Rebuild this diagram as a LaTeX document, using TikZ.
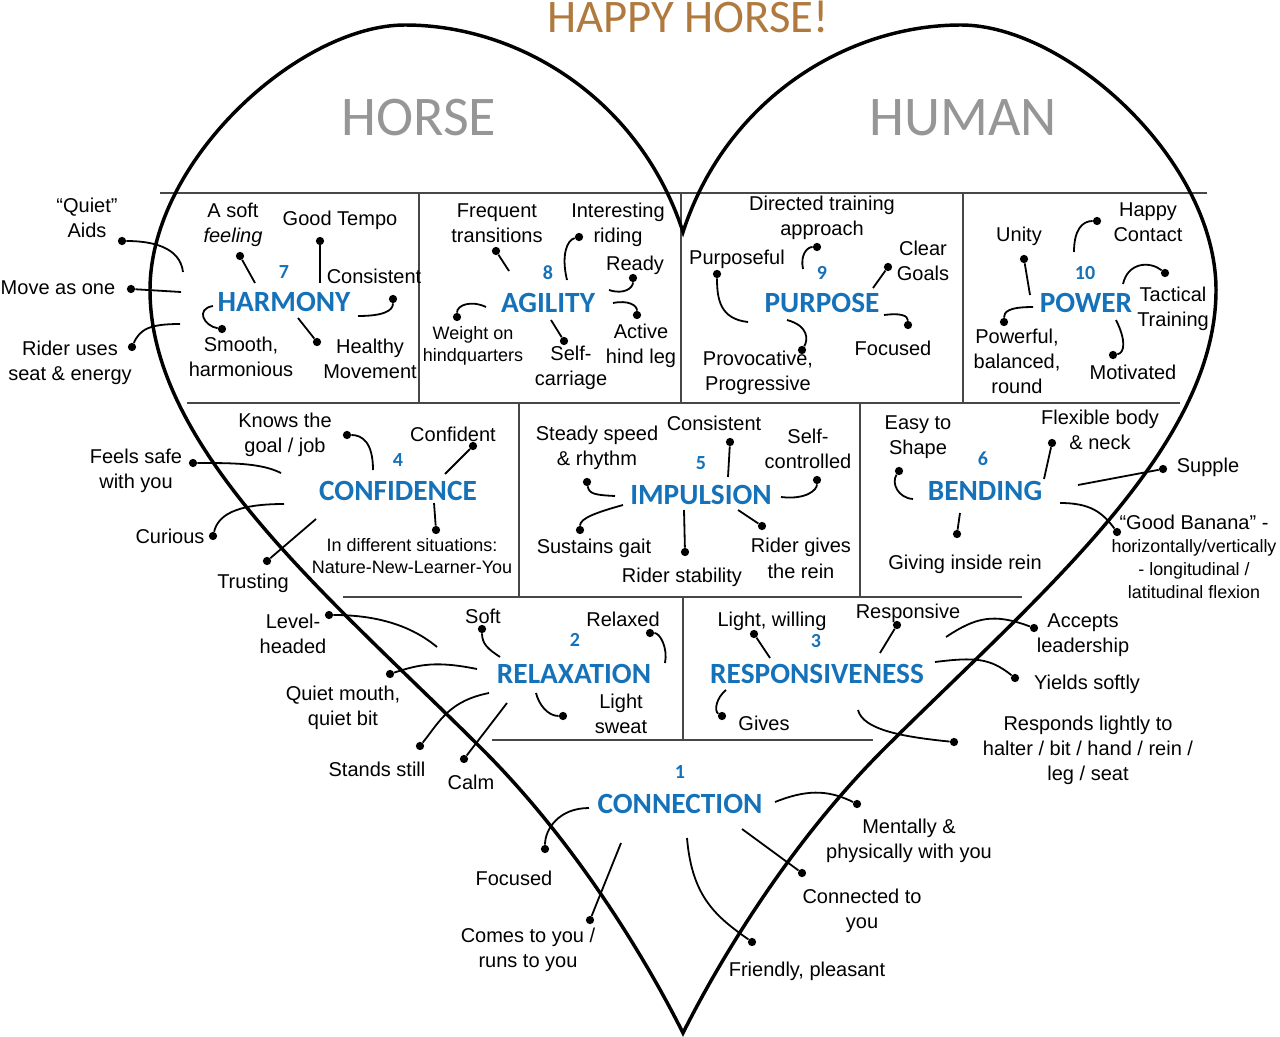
\documentclass[tikz,border=0pt]{standalone}
\usepackage{fontspec}
\setmainfont{Liberation Sans}
\newfontfamily\hfont{Carlito}
\definecolor{hblue}{RGB}{22,114,184}
\definecolor{tbrown}{RGB}{176,122,62}
\definecolor{hgray}{RGB}{150,150,150}
\begin{document}
\begin{tikzpicture}[x=0.75pt,y=-0.75pt,
  txt/.style={font=\fontsize{15}{18.75}\selectfont, align=center, inner sep=0pt, yshift=-2.25pt,
    execute at begin node=\strut, execute at end node=\strut},
  sm/.style={txt, font=\fontsize{13.5}{16.5}\selectfont},
  smb/.style={txt, font=\fontsize{13.4}{17.25}\selectfont},
  head/.style={font=\hfont\bfseries\fontsize{22}{24}\selectfont, text=hblue, inner sep=0pt},
  num/.style={font=\hfont\bfseries\fontsize{15}{16}\selectfont, text=hblue, inner sep=0pt},
  dotn/.style={circle, fill=black, inner sep=0pt, minimum size=6.2pt},
  con/.style={line width=1.35pt},
  heartline/.style={line width=2.6pt, line join=miter},
  gridline/.style={line width=1pt, draw=black!72}]
\useasboundingbox (0,0) rectangle (1280,1037);

% table lines
\draw[gridline] (160,193) -- (1207,193);
\draw[gridline] (419,193) -- (419,403);
\draw[gridline] (681,193) -- (681,403);
\draw[gridline] (963,193) -- (963,403);
\draw[gridline] (187,403) -- (1180,403);
\draw[gridline] (519,403) -- (519,597);
\draw[gridline] (860,403) -- (860,597);
\draw[gridline] (343,597) -- (1022,597);
\draw[gridline] (683,597) -- (683,740);
\draw[gridline] (492,740) -- (873,740);

% heart
\draw[heartline] (683,232) .. controls (640,100) and (520,25) .. (405,25)
  .. controls (300,25) and (150,160) .. (150,290)
  .. controls (150,450) and (333,600) .. (483,750)
  .. controls (583,850) and (653,973) .. (683,1033)
  .. controls (713,973) and (783,850) .. (883,750)
  .. controls (1033,600) and (1216,450) .. (1216,290)
  .. controls (1216,160) and (1066,25) .. (961,25)
  .. controls (846,25) and (726,100) .. (683,232) -- cycle;

% titles
\node[font=\hfont\fontsize{35}{40}\selectfont, text=tbrown, inner sep=0pt] (title) at (688,17) {HAPPY HORSE!};
\node[font=\hfont\fontsize{42}{46}\selectfont, text=hgray, inner sep=0pt] (horse) at (419,118) {HORSE};
\node[font=\hfont\fontsize{42}{46}\selectfont, text=hgray, inner sep=0pt] (human) at (963,118) {HUMAN};

% ===== 7 HARMONY =====
\node[num] (n7) at (284,272) {7};
\node[head] (h7) at (284,302) {HARMONY};
\node[txt] (tQuiet) at (87,219) {“Quiet"\\Aids};
\node[dotn] (dQuiet) at (122,241) {};
\coordinate (eQuiet) at (183,272);
\draw[con] (eQuiet) .. controls +(-3,-25) and +(30,0) .. (dQuiet);
\node[txt] (tMove) at (58,287) {Move as one};
\node[dotn] (dMove) at (131,289) {};
\coordinate (eMove) at (181,292);
\draw[con] (dMove) -- (eMove);
\node[txt] (tRider) at (70,362) {Rider uses\\seat \& energy};
\node[dotn] (dRider) at (132,347) {};
\coordinate (eRider) at (180,324);
\draw[con] (eRider) .. controls +(-30,0) and +(8,-18) .. (dRider);
\node[txt] (tSoftF) at (233,224) {A soft\\\textit{feeling}};
\node[dotn] (dSoftF) at (240,256) {};
\coordinate (eSoftF) at (255,283);
\draw[con] (dSoftF) -- (eSoftF);
\node[txt] (tTempo) at (340,218) {Good Tempo};
\node[dotn] (dTempo) at (320,241) {};
\coordinate (eTempo) at (320,283);
\draw[con] (dTempo) -- (eTempo);
\node[txt] (tCons7) at (374,276) {Consistent};
\node[dotn] (dCons7) at (393,299) {};
\coordinate (eCons7) at (358,316);
\draw[con] (eCons7) .. controls +(25,0) and +(0,12) .. (dCons7);
\node[txt] (tSmooth) at (241,358) {Smooth,\\harmonious};
\node[dotn] (dSmooth) at (222,329) {};
\coordinate (eSmooth) at (213,306);
\draw[con] (eSmooth) .. controls +(-18,3) and +(-18,-3) .. (dSmooth);
\node[txt] (tHealthy) at (370,360) {Healthy\\Movement};
\node[dotn] (dHealthy) at (317,342) {};
\coordinate (eHealthy) at (298,318);
\draw[con] (eHealthy) -- (dHealthy);

% ===== 8 AGILITY =====
\node[num] (n8) at (548,273) {8};
\node[head] (h8) at (548,303) {AGILITY};
\node[txt] (tFreq) at (497,224) {Frequent\\transitions};
\node[dotn] (dFreq) at (496,251) {};
\coordinate (eFreq) at (509,271);
\draw[con] (dFreq) -- (eFreq);
\node[txt] (tInter) at (618,224) {Interesting\\riding};
\node[dotn] (dInter) at (579,237) {};
\coordinate (eInter) at (567,280);
\draw[con] (eInter) .. controls +(-6,-25) and +(-12,3) .. (dInter);
\node[txt] (tReady) at (635,263) {Ready};
\node[dotn] (dReady) at (633,278) {};
\coordinate (eReady) at (609,290);
\draw[con] (eReady) .. controls +(15,5) and +(0,10) .. (dReady);
\node[sm] (tWeight) at (473,344) {Weight on\\hindquarters};
\node[dotn] (dWeight) at (457,317) {};
\coordinate (eWeight) at (486,307);
\draw[con] (eWeight) .. controls +(-15,-7) and +(0,-12) .. (dWeight);
\node[txt] (tSelf) at (571,367) {Self-\\carriage};
\node[dotn] (dSelf) at (564,341) {};
\coordinate (eSelf) at (551,320);
\draw[con] (eSelf) -- (dSelf);
\node[txt] (tActive) at (641,345) {Active\\hind leg};
\node[dotn] (dActive) at (637,315) {};
\coordinate (eActive) at (613,303);
\draw[con] (eActive) .. controls +(15,-3) and +(0,-10) .. (dActive);

% ===== 9 PURPOSE =====
\node[num] (n9) at (822,273) {9};
\node[head] (h9) at (822,303) {PURPOSE};
\node[txt] (tDir) at (822,217) {Directed training\\approach};
\node[dotn] (dDir) at (817,247) {};
\coordinate (eDir) at (803,269);
\draw[con] (eDir) .. controls +(-3,-14) and +(-10,0) .. (dDir);
\node[txt] (tPurpf) at (737,257) {Purposeful};
\node[dotn] (dPurpf) at (717,274) {};
\coordinate (ePurpf) at (748,322);
\draw[con] (ePurpf) .. controls +(-28,-3) and +(0,25) .. (dPurpf);
\node[txt] (tClear) at (923,262) {Clear\\Goals};
\node[dotn] (dClear) at (888,267) {};
\coordinate (eClear) at (873,288);
\draw[con] (dClear) -- (eClear);
\node[txt] (tFoc9) at (893,347) {Focused};
\node[dotn] (dFoc9) at (908,325) {};
\coordinate (eFoc9) at (884,315);
\draw[con] (eFoc9) .. controls +(15,-2) and +(0,-10) .. (dFoc9);
\node[txt] (tProv) at (758,372) {Provocative,\\Progressive};
\node[dotn] (dProv) at (802,350) {};
\coordinate (eProv) at (787,320);
\draw[con] (eProv) .. controls +(22,6) and +(6,-10) .. (dProv);

% ===== 10 POWER =====
\node[num] (n10) at (1085,273) {10};
\node[head] (h10) at (1086,303) {POWER};
\node[txt] (tUnity) at (1019,234) {Unity};
\node[dotn] (dUnity) at (1024,259) {};
\coordinate (eUnity) at (1030,295);
\draw[con] (dUnity) -- (eUnity);
\node[txt] (tHappy) at (1148,223) {Happy\\Contact};
\node[dotn] (dHappy) at (1097,221) {};
\coordinate (eHappy) at (1074,252);
\draw[con] (eHappy) .. controls +(0,-22) and +(-15,0) .. (dHappy);
\node[txt] (tTact) at (1173,308) {Tactical\\Training};
\node[dotn] (dTact) at (1165,273) {};
\coordinate (eTact) at (1123,284);
\draw[con] (eTact) .. controls +(5,-22) and +(-15,-12) .. (dTact);
\node[txt] (tPowf) at (1017,362) {Powerful,\\balanced,\\round};
\node[dotn] (dPowf) at (1004,322) {};
\coordinate (ePowf) at (1033,307);
\draw[con] (ePowf) .. controls +(-25,0) and +(0,-10) .. (dPowf);
\node[txt] (tMotiv) at (1133,371) {Motivated};
\node[dotn] (dMotiv) at (1113,355) {};
\coordinate (eMotiv) at (1116,320);
\draw[con] (eMotiv) .. controls +(10,20) and +(12,-2) .. (dMotiv);

% ===== 4 CONFIDENCE =====
\node[num] (n4) at (398,460) {4};
\node[head] (h4) at (398,491) {CONFIDENCE};
\node[txt] (tKnows) at (285,434) {Knows the\\goal / job};
\node[dotn] (dKnows) at (347,435) {};
\coordinate (eKnows) at (373,470);
\draw[con] (eKnows) .. controls +(0,-28) and +(15,0) .. (dKnows);
\node[txt] (tConfd) at (453,433) {Confident};
\node[dotn] (dConfd) at (473,446) {};
\coordinate (eConfd) at (445,474);
\draw[con] (dConfd) -- (eConfd);
\node[txt] (tFeels) at (136,470) {Feels safe\\with you};
\node[dotn] (dFeels) at (193,463) {};
\coordinate (eFeels) at (281,473);
\draw[con] (eFeels) .. controls +(-20,-10) and +(40,0) .. (dFeels);
\node[txt] (tCurious) at (170,535) {Curious};
\node[dotn] (dCurious) at (213,536) {};
\coordinate (eCurious) at (284,504);
\draw[con] (eCurious) .. controls +(-50,0) and +(5,-20) .. (dCurious);
\node[txt] (tTrust) at (253,580) {Trusting};
\node[dotn] (dTrust) at (267,561) {};
\coordinate (eTrust) at (316,519);
\draw[con] (dTrust) -- (eTrust);
\node[sm] (tDiff) at (412,556) {In different situations:\\Nature-New-Learner-You};
\node[dotn] (dDiff) at (436,530) {};
\coordinate (eDiff) at (434,503);
\draw[con] (eDiff) -- (dDiff);

% ===== 5 IMPULSION =====
\node[num] (n5) at (701,463) {5};
\node[head] (h5) at (701,495) {IMPULSION};
\node[txt] (tSteady) at (597,447) {Steady speed\\\& rhythm};
\node[dotn] (dSteady) at (587,482) {};
\coordinate (eSteady) at (615,496);
\draw[con] (eSteady) .. controls +(-20,-1) and +(2,12) .. (dSteady);
\node[txt] (tCons5) at (714,422) {Consistent};
\node[dotn] (dCons5) at (730,442) {};
\coordinate (eCons5) at (728,477);
\draw[con] (dCons5) -- (eCons5);
\node[txt] (tSelfc) at (808,450) {Self-\\controlled};
\node[dotn] (dSelfc) at (817,480) {};
\coordinate (eSelfc) at (781,497);
\draw[con] (eSelfc) .. controls +(25,3) and +(0,10) .. (dSelfc);
\node[txt] (tSust) at (594,545) {Sustains gait};
\node[dotn] (dSust) at (580,530) {};
\coordinate (eSust) at (623,505);
\draw[con] (eSust) .. controls +(-25,7) and +(0,-12) .. (dSust);
\node[txt] (tStab) at (682,574) {Rider stability};
\node[dotn] (dStab) at (685,552) {};
\coordinate (eStab) at (684,510);
\draw[con] (eStab) -- (dStab);
\node[txt] (tRgives) at (801,559) {Rider gives\\the rein};
\node[dotn] (dRgives) at (762,526) {};
\coordinate (eRgives) at (738,510);
\draw[con] (eRgives) -- (dRgives);

% ===== 6 BENDING =====
\node[num] (n6) at (983,459) {6};
\node[head] (h6) at (985,491) {BENDING};
\node[txt] (tEasy) at (918,436) {Easy to\\Shape};
\node[dotn] (dEasy) at (899,471) {};
\coordinate (eEasy) at (913,499);
\draw[con] (eEasy) .. controls +(-15,-1) and +(-8,12) .. (dEasy);
\node[txt] (tFlex) at (1100,431) {Flexible body\\\& neck};
\node[dotn] (dFlex) at (1052,443) {};
\coordinate (eFlex) at (1044,479);
\draw[con] (dFlex) -- (eFlex);
\node[txt] (tSupple) at (1208,464) {Supple};
\node[dotn] (dSupple) at (1163,469) {};
\coordinate (eSupple) at (1078,485);
\draw[con] (eSupple) -- (dSupple);
\node[smb] (tBanana) at (1194,557) {{\fontsize{15}{18.75}\selectfont “Good Banana” -}\\horizontally/vertically\\- longitudinal /\\latitudinal flexion};
\node[dotn] (dBanana) at (1117,532) {};
\coordinate (eBanana) at (1060,503);
\draw[con] (eBanana) .. controls +(30,0) and +(-15,-20) .. (dBanana);
\node[txt] (tGiving) at (965,561) {Giving inside rein};
\node[dotn] (dGiving) at (957,534) {};
\coordinate (eGiving) at (960,513);
\draw[con] (eGiving) -- (dGiving);

% ===== 2 RELAXATION =====
\node[num] (n2) at (575,640) {2};
\node[head] (h2) at (574,674) {RELAXATION};
\node[txt] (tLevel) at (293,634) {Level-\\headed};
\node[dotn] (dLevel) at (329,615) {};
\coordinate (eLevel) at (437,647);
\draw[con] (eLevel) .. controls +(-30,-25) and +(40,0) .. (dLevel);
\node[txt] (tSoftR) at (483,615) {Soft};
\node[dotn] (dSoftR) at (482,629) {};
\coordinate (eSoftR) at (500,657);
\draw[con] (eSoftR) .. controls +(-12,-8) and +(0,15) .. (dSoftR);
\node[txt] (tRelaxed) at (623,618) {Relaxed};
\node[dotn] (dRelaxed) at (650,633) {};
\coordinate (eRelaxed) at (665,663);
\draw[con] (eRelaxed) .. controls +(3,-15) and +(10,0) .. (dRelaxed);
\node[txt] (tLight) at (621,714) {Light\\sweat};
\node[dotn] (dLight) at (563,716) {};
\coordinate (eLight) at (536,693);
\draw[con] (eLight) .. controls +(3,12) and +(-15,0) .. (dLight);
\node[txt] (tQuietM) at (343,706) {Quiet mouth,\\quiet bit};
\node[dotn] (dQuietM) at (390,674) {};
\coordinate (eQuietM) at (477,669);
\draw[con] (eQuietM) .. controls +(-40,-8) and +(30,-10) .. (dQuietM);
\node[txt] (tStands) at (377,768) {Stands still};
\node[dotn] (dStands) at (420,746) {};
\coordinate (eStands) at (489,693);
\draw[con] (eStands) .. controls +(-40,8) and +(20,-25) .. (dStands);
\node[txt] (tCalm) at (471,781) {Calm};
\node[dotn] (dCalm) at (464,759) {};
\coordinate (eCalm) at (507,703);
\draw[con] (dCalm) -- (eCalm);

% ===== 3 RESPONSIVENESS =====
\node[num] (n3) at (816,641) {3};
\node[head] (h3) at (817,674) {RESPONSIVENESS};
\node[txt] (tLightW) at (772,618) {Light, willing};
\node[dotn] (dLightW) at (754,634) {};
\coordinate (eLightW) at (770,658);
\draw[con] (dLightW) -- (eLightW);
\node[txt] (tRespv) at (908,610) {Responsive};
\node[dotn] (dRespv) at (897,625) {};
\coordinate (eRespv) at (880,653);
\draw[con] (dRespv) -- (eRespv);
\node[txt] (tGives3) at (764,722) {Gives};
\node[dotn] (dGives3) at (722,716) {};
\coordinate (eGives3) at (726,690);
\draw[con] (eGives3) .. controls +(-10,8) and +(-8,-5) .. (dGives3);
\node[txt] (tAccepts) at (1083,634) {Accepts\\leadership};
\node[dotn] (dAccepts) at (1034,628) {};
\coordinate (eAccepts) at (946,637);
\draw[con] (eAccepts) .. controls +(30,-20) and +(-40,-15) .. (dAccepts);
\node[txt] (tYields) at (1087,681) {Yields softly};
\node[dotn] (dYields) at (1015,678) {};
\coordinate (eYields) at (935,662);
\draw[con] (eYields) .. controls +(40,-5) and +(-25,-20) .. (dYields);
\node[txt] (tResponds) at (1088,749) {Responds lightly to\\halter / bit / hand / rein /\\leg / seat};
\node[dotn] (dResponds) at (954,742) {};
\coordinate (eResponds) at (858,710);
\draw[con] (eResponds) .. controls +(5,20) and +(-50,-5) .. (dResponds);

% ===== 1 CONNECTION =====
\node[num] (n1) at (680,772) {1};
\node[head] (h1) at (680,804) {CONNECTION};
\node[txt] (tFoc1) at (514,877) {Focused};
\node[dotn] (dFoc1) at (545,849) {};
\coordinate (eFoc1) at (589,808);
\draw[con] (eFoc1) .. controls +(-30,0) and +(0,-20) .. (dFoc1);
\node[txt] (tComes) at (528,948) {Comes to you /\\runs to you};
\node[dotn] (dComes) at (590,920) {};
\coordinate (eComes) at (621,843);
\draw[con] (eComes) -- (dComes);
\node[txt] (tFriendly) at (807,968) {Friendly, pleasant};
\node[dotn] (dFriendly) at (752,942) {};
\coordinate (eFriendly) at (687,838);
\draw[con] (eFriendly) .. controls +(5,60) and +(-35,-25) .. (dFriendly);
\node[txt] (tConnd) at (862,909) {Connected to\\you};
\node[dotn] (dConnd) at (802,873) {};
\coordinate (eConnd) at (742,829);
\draw[con] (eConnd) -- (dConnd);
\node[txt] (tMent) at (909,839) {Mentally \&\\physically with you};
\node[dotn] (dMent) at (857,804) {};
\coordinate (eMent) at (775,802);
\draw[con] (eMent) .. controls +(30,-12) and +(-30,-15) .. (dMent);
\end{tikzpicture}
\end{document}
